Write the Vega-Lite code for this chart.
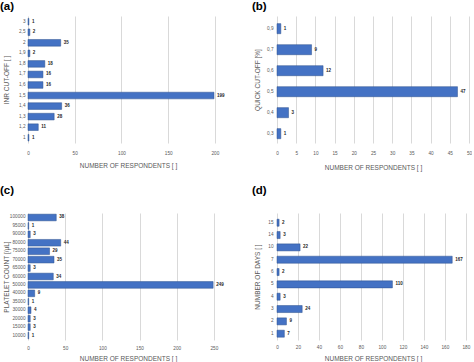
{
  "$schema": "https://vega.github.io/schema/vega-lite/v6.json",
  "autosize": {"type": "pad"},
  "padding": 0,
  "background": "white",
  "config": {
    "view": {"stroke": null},
    "font": "Liberation Sans",
    "axis": {"labelFont": "Liberation Sans", "labelFontSize": 4.7, "labelColor": "#595959", "titleFont": "Liberation Sans", "titleFontSize": 6.5, "titleFontWeight": "normal", "titleColor": "#595959", "gridColor": "#d9d9d9", "domain": false, "ticks": false},
    "axisX": {"grid": true, "labelPadding": 7, "titlePadding": 8, "labelFlush": false},
    "axisY": {"grid": false, "labelPadding": 3, "titlePadding": 5},
    "title": {"font": "Liberation Sans", "fontSize": 11.5, "fontWeight": "bold", "color": "#000000", "anchor": "start", "frame": "group", "baseline": "alphabetic"}
  },
  "datasets": {
    "a": [{"k": "3", "n": 1}, {"k": "2,5", "n": 2}, {"k": "2", "n": 35}, {"k": "1,9", "n": 2}, {"k": "1,8", "n": 18}, {"k": "1,7", "n": 16}, {"k": "1,6", "n": 16}, {"k": "1,5", "n": 199}, {"k": "1,4", "n": 36}, {"k": "1,3", "n": 28}, {"k": "1,2", "n": 11}, {"k": "1", "n": 1}],
    "b": [{"k": "0,9", "n": 1}, {"k": "0,7", "n": 9}, {"k": "0,6", "n": 12}, {"k": "0,5", "n": 47}, {"k": "0,4", "n": 3}, {"k": "0,3", "n": 1}],
    "c": [{"k": "100000", "n": 38}, {"k": "95000", "n": 1}, {"k": "90000", "n": 3}, {"k": "80000", "n": 44}, {"k": "75000", "n": 29}, {"k": "70000", "n": 35}, {"k": "65000", "n": 3}, {"k": "60000", "n": 34}, {"k": "50000", "n": 249}, {"k": "40000", "n": 9}, {"k": "35000", "n": 1}, {"k": "30000", "n": 4}, {"k": "20000", "n": 3}, {"k": "15000", "n": 3}, {"k": "10000", "n": 1}],
    "d": [{"k": "15", "n": 2}, {"k": "14", "n": 3}, {"k": "10", "n": 22}, {"k": "7", "n": 167}, {"k": "6", "n": 2}, {"k": "5", "n": 110}, {"k": "4", "n": 3}, {"k": "3", "n": 24}, {"k": "2", "n": 9}, {"k": "1", "n": 7}]
  },
  "columns": 2,
  "align": "each",
  "bounds": "flush",
  "spacing": {"column": 49, "row": 70},
  "concat": [
    {
      "width": 200, "height": 127,
      "title": {"text": "(a)", "dx": -28, "offset": 4},
      "data": {"name": "a"},
      "encoding": {
        "y": {"field": "k", "type": "nominal", "sort": null, "scale": {"paddingInner": 0.37, "paddingOuter": 0.207, "align": 0.55}, "axis": {"title": "INR CUT-OFF [ ]", "titlePadding": 8.5}},
        "x": {"field": "n", "type": "quantitative", "scale": {"domain": [0, 214], "nice": false}, "axis": {"values": [0, 50, 100, 150, 200], "title": "NUMBER OF RESPONDENTS [ ]", "titlePadding": 7.7}}
      },
      "layer": [
        {"mark": {"type": "bar", "color": "#4472C4", "stroke": "#2F528F", "strokeWidth": 0.5}},
        {"mark": {"type": "text", "align": "left", "dx": 3, "fontSize": 4.5, "fontWeight": "bold", "color": "#262626"}, "encoding": {"text": {"field": "n", "type": "quantitative"}}}
      ]
    },
    {
      "width": 192, "height": 127,
      "title": {"text": "(b)", "dx": -25, "offset": 4},
      "data": {"name": "b"},
      "encoding": {
        "y": {"field": "k", "type": "nominal", "sort": null, "scale": {"paddingInner": 0.52, "paddingOuter": 0.284, "align": 0.64}, "axis": {"title": "QUICK CUT-OFF [%]", "labelPadding": 4, "titlePadding": 6}},
        "x": {"field": "n", "type": "quantitative", "scale": {"domain": [0, 50], "nice": false}, "axis": {"values": [0, 5, 10, 15, 20, 25, 30, 35, 40, 45, 50], "title": "NUMBER OF RESPONDENTS [ ]", "titlePadding": 9.4}}
      },
      "layer": [
        {"mark": {"type": "bar", "color": "#4472C4", "stroke": "#2F528F", "strokeWidth": 0.5}},
        {"mark": {"type": "text", "align": "left", "dx": 3, "fontSize": 4.5, "fontWeight": "bold", "color": "#262626"}, "encoding": {"text": {"field": "n", "type": "quantitative"}}}
      ]
    },
    {
      "width": 200, "height": 127,
      "title": {"text": "(c)", "dx": -28, "offset": 16.5},
      "data": {"name": "c"},
      "encoding": {
        "y": {"field": "k", "type": "nominal", "sort": null, "scale": {"paddingInner": 0.21, "paddingOuter": 0.138, "align": 0.5}, "axis": {"title": "PLATELET COUNT [/µL]", "titlePadding": 0}},
        "x": {"field": "n", "type": "quantitative", "scale": {"domain": [0, 269], "nice": false}, "axis": {"values": [0, 50, 100, 150, 200, 250], "title": "NUMBER OF RESPONDENTS [ ]", "labelPadding": 5, "titlePadding": 5.4}}
      },
      "layer": [
        {"mark": {"type": "bar", "color": "#4472C4", "stroke": "#2F528F", "strokeWidth": 0.5}},
        {"mark": {"type": "text", "align": "left", "dx": 3, "fontSize": 4.5, "fontWeight": "bold", "color": "#262626"}, "encoding": {"text": {"field": "n", "type": "quantitative"}}}
      ]
    },
    {
      "width": 192, "height": 127,
      "title": {"text": "(d)", "dx": -25, "offset": 16.5},
      "data": {"name": "d"},
      "encoding": {
        "y": {"field": "k", "type": "nominal", "sort": null, "scale": {"paddingInner": 0.43, "paddingOuter": 0.365, "align": 0.69}, "axis": {"title": "NUMBER OF DAYS [ ]", "labelPadding": 4, "titlePadding": 7}},
        "x": {"field": "n", "type": "quantitative", "scale": {"domain": [0, 183], "nice": false}, "axis": {"values": [0, 20, 40, 60, 80, 100, 120, 140, 160, 180], "title": "NUMBER OF RESPONDENTS [ ]", "labelPadding": 4, "titlePadding": 6.8}}
      },
      "layer": [
        {"mark": {"type": "bar", "color": "#4472C4", "stroke": "#2F528F", "strokeWidth": 0.5}},
        {"mark": {"type": "text", "align": "left", "dx": 3, "fontSize": 4.5, "fontWeight": "bold", "color": "#262626"}, "encoding": {"text": {"field": "n", "type": "quantitative"}}}
      ]
    }
  ]
}
